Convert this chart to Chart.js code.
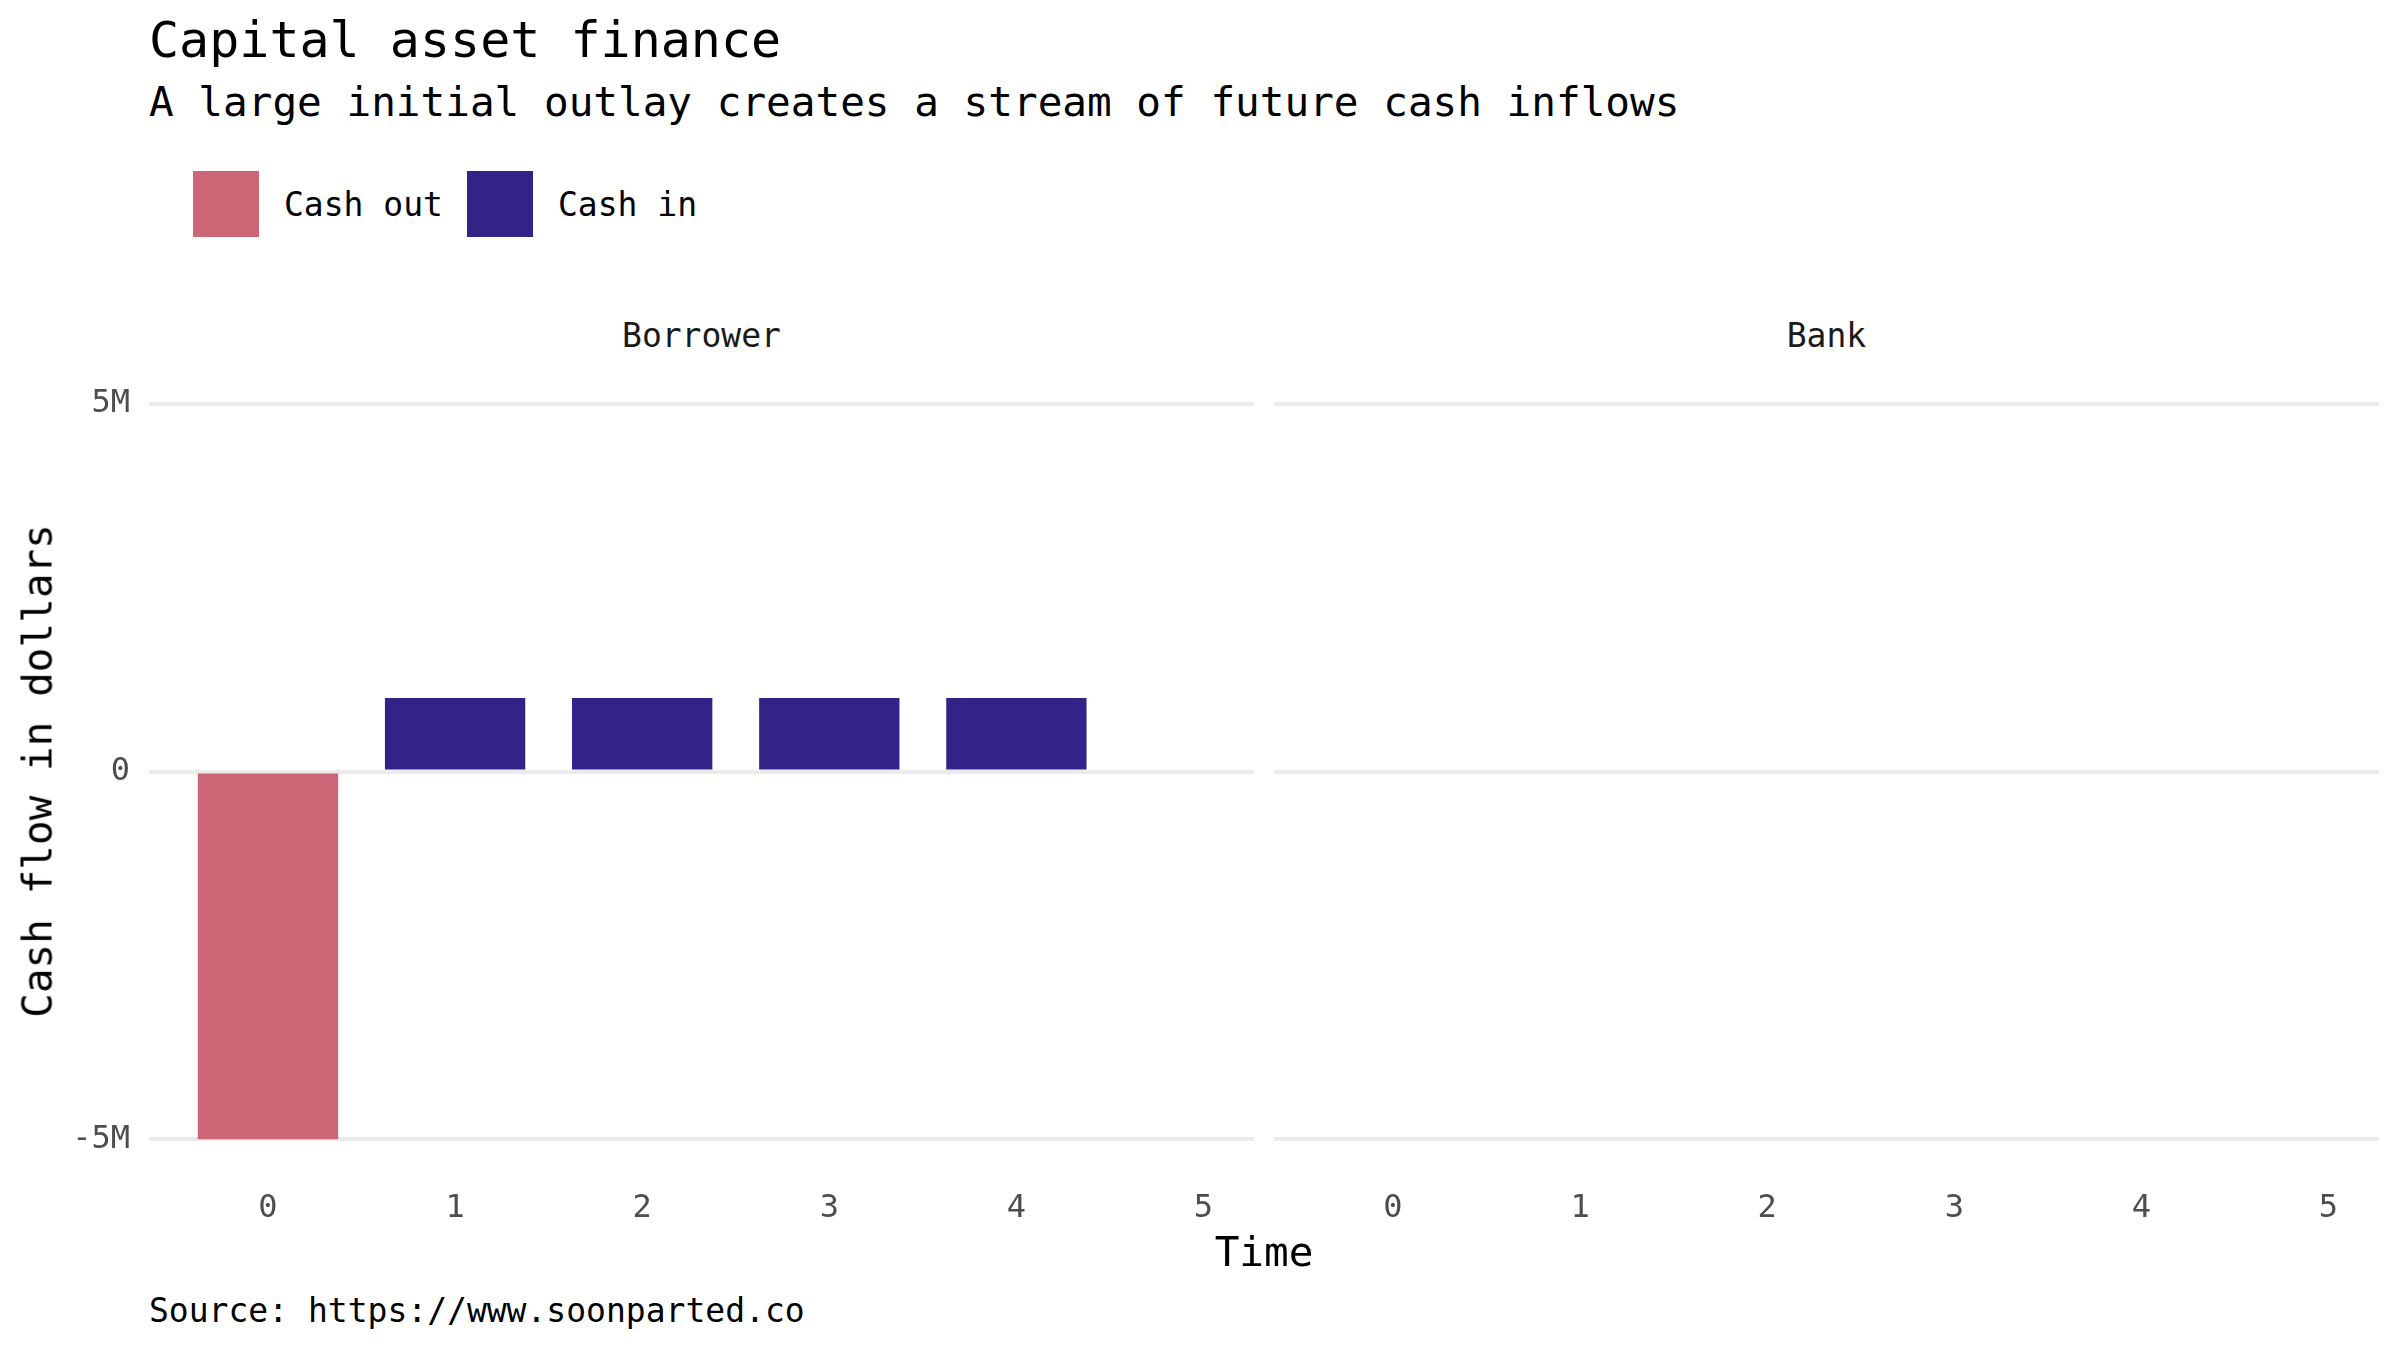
<!DOCTYPE html>
<html>
<head>
<meta charset="utf-8">
<script src="https://cdn.jsdelivr.net/npm/chart.js@4.4.1/dist/chart.umd.min.js"></script>
<style>
  html, body { margin: 0; padding: 0; background: #fff; }
  body { width: 2400px; height: 1350px; position: relative; overflow: hidden;
         font-family: "DejaVu Sans Mono", monospace; }
  .txt { position: absolute; white-space: nowrap; }
  .key { position: absolute; width: 66px; height: 66px; }
  canvas { position: absolute; }
</style>
</head>
<body>

<div class="txt" style="left:149px;top:15px;font-size:50px;line-height:50px;color:#000;">Capital asset finance</div>
<div class="txt" style="left:149px;top:82px;font-size:41px;line-height:41px;color:#000;">A large initial outlay creates a stream of future cash inflows</div>

<div class="key" id="keyOut" style="left:193px;top:171px;"></div>
<div class="txt" id="lblOut" style="left:284px;top:188px;font-size:33px;line-height:33px;color:#000;"></div>
<div class="key" id="keyIn" style="left:467px;top:171px;"></div>
<div class="txt" id="lblIn" style="left:558px;top:188px;font-size:33px;line-height:33px;color:#000;"></div>

<div class="txt" id="facetL" style="left:149px;width:1105px;text-align:center;top:319px;font-size:33px;line-height:33px;color:#1a1a1a;"></div>
<div class="txt" id="facetR" style="left:1274px;width:1105px;text-align:center;top:319px;font-size:33px;line-height:33px;color:#1a1a1a;"></div>

<canvas id="borrowerChart" style="left:0;top:367px;"></canvas>
<canvas id="bankChart" style="left:1264px;top:367px;"></canvas>

<div class="txt" style="left:1014px;width:500px;text-align:center;top:1232px;font-size:41px;line-height:41px;color:#000;">Time</div>
<div class="txt" style="left:38px;top:771px;font-size:41px;line-height:41px;color:#000;transform:translate(-50%,-50%) rotate(-90deg);">Cash flow in dollars</div>
<div class="txt" style="left:149px;top:1294px;font-size:33px;line-height:33px;color:#000;">Source: https://www.soonparted.co</div>

<script>
// ── data ──
const times = [0, 1, 2, 3, 4, 5];
const facets = ['Borrower', 'Bank'];
const seriesNames = ['Cash out', 'Cash in'];
const borrowerCashOut = [-5000000, null, null, null, null, null];
const borrowerCashIn = [null, 1000000, 1000000, 1000000, 1000000, null];
const bankCashOut = [null, null, null, null, null, null];
const bankCashIn = [null, null, null, null, null, null];
const yTicks = [-5000000, 0, 5000000];
const yTickLabels = ['-5M', '0', '5M'];

const COL_OUT = '#cc6677';
const COL_IN = '#332288';
const GRID = '#ebebeb';
const FONT = '"DejaVu Sans Mono", monospace';

// ── html labels ──
document.getElementById('keyOut').style.background = COL_OUT;
document.getElementById('keyIn').style.background = COL_IN;
document.getElementById('lblOut').textContent = seriesNames[0];
document.getElementById('lblIn').textContent = seriesNames[1];
document.getElementById('facetL').textContent = facets[0];
document.getElementById('facetR').textContent = facets[1];

const toPoints = arr => times.map((t, i) => ({ x: t, y: arr[i] }));

// drop the half-label padding chart.js adds around axes
const noPad = s => { s.paddingTop = 0; s.paddingBottom = 0; s.paddingLeft = 0; s.paddingRight = 0; };

function makePanel(id, outVals, inVals, showY, w) {
  const cv = document.getElementById(id);
  cv.width = w; cv.height = 879;
  cv.style.width = w + 'px'; cv.style.height = '879px';
  return new Chart(cv.getContext('2d'), {
    type: 'bar',
    data: {
      datasets: [
        { label: seriesNames[0], data: toPoints(outVals), backgroundColor: COL_OUT,
          barPercentage: 0.75, categoryPercentage: 1 },
        { label: seriesNames[1], data: toPoints(inVals), backgroundColor: COL_IN,
          barPercentage: 0.75, categoryPercentage: 1 }
      ]
    },
    options: {
      responsive: false,
      animation: false,
      layout: { padding: { left: 0, right: 10, top: 0, bottom: 0 } },
      plugins: { legend: { display: false }, tooltip: { enabled: false }, title: { display: false } },
      scales: {
        x: {
          type: 'linear', stacked: true, offset: false,
          min: -0.636, max: 5.27,
          afterBuildTicks: s => { s.ticks = times.map(v => ({ value: v })); },
          afterFit: s => { s.height = 70; noPad(s); },
          grid: { display: false, drawTicks: false, offset: false },
          border: { display: false },
          ticks: { color: '#4d4d4d', font: { family: FONT, size: 32 }, padding: 13,
                   maxRotation: 0, autoSkip: false, callback: v => String(v) }
        },
        y: {
          stacked: true,
          min: -5500000, max: 5500000,
          afterBuildTicks: s => { s.ticks = yTicks.map(v => ({ value: v })); },
          afterFit: s => { s.width = showY ? 149 : 10; noPad(s); },
          grid: { color: GRID, lineWidth: 4, drawTicks: false },
          border: { display: false },
          ticks: { display: showY, color: '#4d4d4d', font: { family: FONT, size: 32 }, padding: 19,
                   callback: v => yTickLabels[yTicks.indexOf(v)] }
        }
      }
    }
  });
}

const borrowerChart = makePanel('borrowerChart', borrowerCashOut, borrowerCashIn, true, 1264);
const bankChart = makePanel('bankChart', bankCashOut, bankCashIn, false, 1125);
</script>
</body>
</html>
